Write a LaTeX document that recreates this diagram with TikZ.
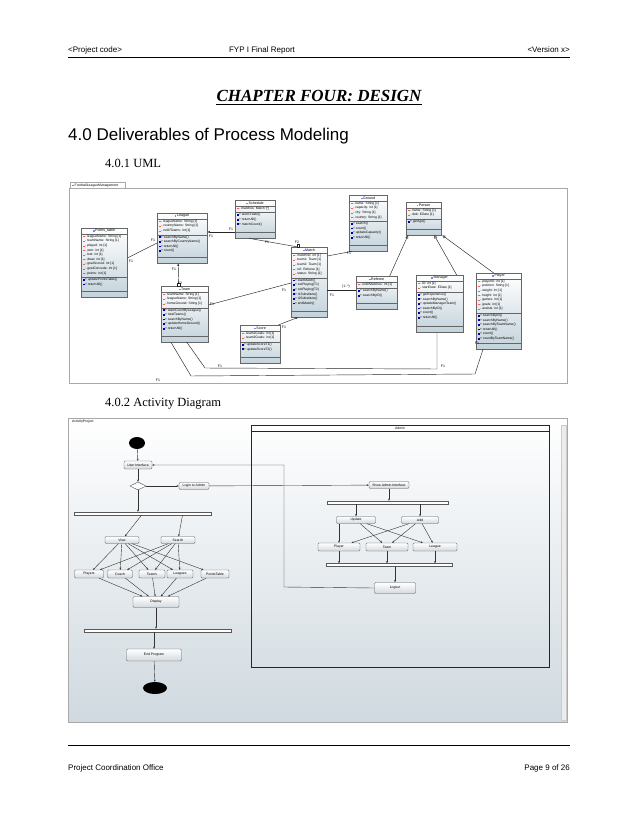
\documentclass[tikz,border=0pt]{standalone}
\usepackage{fontspec}
\setmainfont{Liberation Serif}
\newfontfamily\hfont{Liberation Sans}
\usetikzlibrary{arrows.meta,calc,shapes.geometric}
\definecolor{clsb}{HTML}{C3D2DB}
\definecolor{frm}{HTML}{A8A8A8}
\definecolor{actb}{HTML}{D3D9DD}
\definecolor{bgb}{HTML}{CFD9DF}
\newcommand\ai{\textcolor{red!65}{\rule{2pt}{1pt}}\,}
\newcommand\mi{\textcolor{blue!65!black}{\rule{1.8pt}{1.8pt}}\,}
\newcommand\ci{\textcolor{blue!50}{\rule{1.6pt}{1.6pt}}}
\tikzset{
 clsbox/.style={draw=gray!80!black, line width=0.35pt, rectangle, inner sep=0, shading=axis, top color=white, bottom color=clsb},
 clsline/.style={draw=gray!80!black, line width=0.3pt},
 clstitle/.style={font=\hfont\fontsize{3.6}{4}\selectfont, inner sep=0},
 clstext/.style={font=\hfont\fontsize{3.3}{4.6}\selectfont, inner sep=0, align=left},
 assoc/.style={draw=gray!30!black, line width=0.45pt},
 lab/.style={font=\hfont\fontsize{3.5}{4}\selectfont, inner sep=0.5pt},
 act/.style={draw=gray!70!black, line width=0.35pt, rounded corners=1.2pt, shading=axis, top color=white, bottom color=actb, font=\hfont\fontsize{3.4}{4}\selectfont, inner sep=0.5pt},
 bar/.style={draw=gray!70!black, fill=white, line width=0.35pt, inner sep=0, minimum height=3pt},
 flow/.style={draw=gray!40!black, line width=0.4pt, -{Stealth[length=2.2pt,width=1.8pt]}},
 hdr/.style={font=\hfont\fontsize{8}{9}\selectfont, inner sep=0}
}
\newcommand\cls[9]{%
 \node[clsbox, minimum width=#4pt, minimum height=#5pt, anchor=north west] (#1) at (#2,#3) {};
 \pgfmathsetmacro\dv{8+4.6*#9}
 \draw[clsline] (#2,#3+6) -- ++(#4,0);
 \draw[clsline] (#2,#3+\dv) -- ++(#4,0);
 \draw[clsline] (#2,#3+#5-6) -- ++(#4,0);
 \node[clstitle] at (#2+#4/2,#3+3) {\ci\,#6};
 \node[clstext, anchor=north west] at (#2+1.5,#3+6.8) {#7};
 \node[clstext, anchor=north west] at (#2+1.5,#3+\dv+0.8) {#8};
}
\begin{document}
\begin{tikzpicture}[x=1pt,y=-1pt]
\useasboundingbox[fill=white] (0,0) rectangle (638,826);
% header
\node[hdr, anchor=west] (h1) at (68,50) {<Project code>};
\node[hdr] (h2) at (262,50) {FYP I Final Report};
\node[hdr, anchor=east] (h3) at (570,50) {<Version x>};
\draw[line width=0.5pt] (68,57) -- (570,57);
\node[font=\fontsize{17}{19}\selectfont\bfseries\itshape, inner sep=0] (ch) at (319,96) {CHAPTER FOUR: DESIGN};
\draw[line width=0.8pt] ([yshift=-2pt]ch.south west) -- ([yshift=-2pt]ch.south east);
\node[font=\hfont\fontsize{17}{19}\selectfont, anchor=west, inner sep=0] (s40) at (68,136) {4.0 Deliverables of Process Modeling};
\node[font=\fontsize{12.5}{14}\selectfont, anchor=west, inner sep=0] (s401) at (105,163) {4.0.1 UML};
\node[font=\fontsize{12.5}{14}\selectfont, anchor=west, inner sep=0] (s402) at (105,404) {4.0.2 Activity Diagram};
% footer
\draw[line width=0.5pt] (68,745) -- (570,745);
\node[hdr, anchor=west] (f1) at (68,768) {Project Coordination Office};
\node[hdr, anchor=east] (f2) at (570,768) {Page 9 of 26};

% ================= UML =================
\draw[frm, line width=0.6pt] (69,188) rectangle (567,383);
\draw[frm, line width=0.5pt, fill=white] (70,182.5) rectangle (125,188);
\node[font=\hfont\fontsize{3.4}{4}\selectfont, inner sep=0, anchor=west] (tab) at (72,185.3) {\ci\ FootballLeagueManagement};

\cls{pt}{81}{228}{46}{69}{Points\_table}{\ai- leagueName: String [1]\\\ai- teamName: String [1]\\\ai- played: int [1]\\\ai- won: int [1]\\\ai- lost: int [1]\\\ai- draw: int [1]\\\ai- goalScored: int [1]\\\ai- goalConcede: int [1]\\\ai- points: int [1]}{\mi+ updatePointsTable()\\\mi+ returnAll()}{9}
\cls{lg}{157}{213}{50}{50}{League}{\ai- leagueName: String [1]\\\ai- countryName: String [1]\\\ai- noOfTeams: int [1]}{\mi+ searchByName()\\\mi+ searchByCountryName()\\\mi+ returnAll()\\\mi+ count()}{3}
\cls{sc}{235}{200}{40}{38}{Schedule}{\ai- matches: Match [*]}{\mi+ autoCreate()\\\mi+ returnAll()\\\mi+ matchCount()}{1}
\cls{mt}{291}{247}{36}{70}{Match}{\ai- matchNo: int [1]\\\ai- team1: Team [1]\\\ai- team2: Team [1]\\\ai- ref: Referee [1]\\\ai- status: String [1]}{\mi+ startMatch()\\\mi+ setPlaying(T1)\\\mi+ setPlaying(T2)\\\mi+ t1Substitute()\\\mi+ t2Substitute()\\\mi+ endMatch()}{5}
\cls{tm}{161}{286}{47}{56}{Team}{\ai- teamName: String [1]\\\ai- leagueName: String [1]\\\ai- homeGround: String [1]}{\mi+ teamCountByLeague()\\\mi+ totalTeams()\\\mi+ searchByName()\\\mi+ updateHomeGround()\\\mi+ returnAll()}{3}
\cls{so}{240}{325}{40}{38}{Score}{\ai- team1Goals: int [1]\\\ai- team2Goals: int [1]}{\mi+ updateScoreT1()\\\mi+ updateScoreT2()}{2}
\cls{gr}{349}{195}{38}{56}{Ground}{\ai- name: String [1]\\\ai- capacity: int [1]\\\ai- city: String [1]\\\ai- country: String [1]}{\mi+ search()\\\mi+ count()\\\mi+ updateCapacity()\\\mi+ returnAll()}{4}
\cls{ps}{406}{202}{35}{33}{Person}{\ai- name: String [1]\\\ai- dob: EDate [1]}{\mi+ getAge()}{2}
\cls{rf}{356}{276}{41}{33}{Referee}{\ai- noOfMatches: int [1]}{\mi+ searchByName()\\\mi+ searchByID()}{1}
\cls{mg}{416}{275}{47}{57}{Manager}{\ai- ID: int [1]\\\ai- startDate: EDate [1]}{\mi+ getExperience()\\\mi+ searchByName()\\\mi+ updateManagerTeam()\\\mi+ searchByID()\\\mi+ count()\\\mi+ returnAll()}{2}
\cls{pl}{476}{273}{45}{76}{Player}{\ai- playerID: int [1]\\\ai- position: String [1]\\\ai- weight: int [1]\\\ai- height: int [1]\\\ai- games: int [1]\\\ai- goals: int [1]\\\ai- assists: int [1]}{\mi+ searchByID()\\\mi+ searchByName()\\\mi+ searchByTeamName()\\\mi+ returnAll()\\\mi+ count()\\\mi+ countByTeamName()}{7}

% UML connectors
\draw[assoc] (pt.east |- 0,258) -- (lg.west |- 0,243);
\node[lab] at (131,261) {F1}; \node[lab] at (153,240) {F1};
\draw[assoc, -{Latex[length=2.5pt,width=2pt]}] (sc.west |- 0,232) -- (lg.east |- 0,232);
\node[lab] at (231,229) {F1}; \node[lab] at (211,236) {F1};
\draw[assoc] ([xshift=-6pt]sc.south) -- ([xshift=7pt]mt.north west);
\draw[gray!30!black, fill=white, line width=0.35pt] ([xshift=7pt]mt.north west) ++(-1.3,0) rectangle ++(2.6,-2.6);
\node[lab] at (267,242) {F1}; \node[lab] at (297,242) {F2};
\draw[assoc, -{Latex[length=2.5pt,width=2pt]}] ([xshift=-6pt]tm.north) -- ([xshift=-4pt]lg.south);
\draw[gray!30!black, fill=white, line width=0.35pt] ([xshift=-6pt]tm.north) ++(-1.3,0) rectangle ++(2.6,-2.6);
\node[lab] at (174,269) {F1}; \node[lab] at (180,283) {F2};
\draw[assoc] (tm.east |- 0,305) -- (mt.west |- 0,283);
\node[lab] at (212,304) {F1}; \node[lab] at (284,290) {F1};
\draw[assoc] (mt.east |- 0,290) -- (rf.west |- 0,290);
\node[lab] at (332,295) {F1}; \node[lab] at (346,287) {(1..*)};
\draw[assoc] (mt.east |- 0,256) -- ([xshift=3pt]gr.south west);
\node[lab] at (349,253) {F1};
\draw[assoc, -{Latex[length=2.5pt,width=2pt]}] ([xshift=-2pt]so.north east) -- ([xshift=7pt]mt.south west);
\node[lab] at (284,327) {F1};
\draw[assoc, -{Triangle[open,length=3pt,width=3pt]}] ([xshift=13pt]rf.north) -- ([xshift=2pt]ps.south west);
\draw[assoc, -{Triangle[open,length=3pt,width=3pt]}] ([xshift=17pt]mg.north) -- ([xshift=-7pt]ps.south east);
\draw[assoc, -{Triangle[open,length=3pt,width=3pt]}] ([xshift=-5pt]pl.north) -- ([xshift=1pt]ps.south east);
\coordinate (c1) at (205,368); \coordinate (c2) at (437,369);
\draw[assoc] (tm.south |- 0,342) ++(2,0) -- (c1) -- (c2) -- (c2 |- mg.south);
\node[lab] at (220,366) {F1}; \node[lab] at (443,366) {F1};
\coordinate (d1) at (191,376); \coordinate (d2) at (475,374);
\draw[assoc] ([xshift=10pt]tm.south west) -- (d1) -- (d2) -- ([xshift=7pt]pl.south west);
\node[lab] at (158,380) {F1}; \node[lab] at (477,343) {F1};

% ================= Activity =================
\draw[frm, line width=0.6pt, shading=axis, top color=white, bottom color=bgb] (68,418) rectangle (567,722);
\draw[gray!40, fill=gray!15, line width=0.3pt] (561,425) rectangle (566,720);
\node[font=\hfont\fontsize{3.4}{4}\selectfont, inner sep=0, anchor=west] (atitle) at (72,422) {ActivityProject};
% admin partition
\draw[gray!30!black, line width=0.5pt] (251,425) rectangle (549,667);
\draw[gray!30!black, line width=0.4pt] (251,431) -- (549,431);
\node[font=\hfont\fontsize{3.4}{4}\selectfont, inner sep=0] (admin) at (400,428.5) {Admin};

\node[ellipse, fill=black, minimum width=16pt, minimum height=12pt, inner sep=0] (start) at (137,443) {};
\node[act, minimum width=28pt, minimum height=8pt] (ui) at (138,465) {User Interface};
\node[diamond, draw=gray!60!black, fill=white, minimum width=16pt, minimum height=8pt, inner sep=0, line width=0.35pt] (dec) at (138,486) {};
\node[act, minimum width=30pt, minimum height=7pt] (login) at (194,486) {Login to Admin};
\node[bar, minimum width=137pt] (b1) at (142.5,513.5) {};
\node[act, minimum width=34pt, minimum height=7pt] (view) at (122,540) {View};
\node[act, minimum width=34pt, minimum height=7pt] (search) at (178,540) {Search};
\node[act, minimum width=29pt, minimum height=8pt] (players) at (89,574) {Players};
\node[act, minimum width=25pt, minimum height=8pt] (coach) at (120,574) {Coach};
\node[act, minimum width=26pt, minimum height=8pt] (teams) at (152,574) {Teams};
\node[act, minimum width=26pt, minimum height=8pt] (leagues) at (180,574) {Leagues};
\node[act, minimum width=28pt, minimum height=8pt] (ptab) at (215,574) {PointsTable};
\node[act, minimum width=46pt, minimum height=11pt] (disp) at (156,602) {Display};
\node[bar, minimum width=147pt] (b2) at (157.5,630.5) {};
\node[act, minimum width=55pt, minimum height=12pt] (endp) at (154,655) {End Program};
\node[ellipse, fill=black, minimum width=24pt, minimum height=12pt, inner sep=0] (fin) at (155,688) {};

\draw[flow] (start) -- (ui);
\draw[flow] (ui) -- (dec);
\draw[flow] (dec) -- (login);
\draw[flow] (dec) -- (dec |- b1.north);
\draw[flow] ([xshift=-1pt]b1.south) -- (view);
\draw[flow] ([xshift=40pt]b1.south) -- (search);
\foreach \t in {players,coach,teams,leagues,ptab} \draw[flow] (view) -- (\t);
\foreach \t in {players,coach,teams,leagues} \draw[flow] (search) -- (\t);
\foreach \t in {players,coach,teams,leagues,ptab} \draw[flow] (\t) -- (disp);
\draw[flow] (disp) -- (disp |- b2.north);
\draw[flow] (b2.south -| endp) -- (endp);
\draw[flow] (endp) -- (fin);

\node[act, minimum width=40pt, minimum height=7pt] (show) at (389,485) {Show Admin Interface};
\node[bar, minimum width=121pt] (b3) at (387.5,502.5) {};
\node[act, minimum width=39pt, minimum height=7pt] (upd) at (356,520) {Update};
\node[act, minimum width=37pt, minimum height=7pt] (add) at (420,520) {Add};
\node[act, minimum width=42pt, minimum height=8pt] (aplayer) at (339,547) {Player};
\node[act, minimum width=42pt, minimum height=8pt] (ateam) at (387,547) {Team};
\node[act, minimum width=44pt, minimum height=8pt] (aleague) at (435,547) {League};
\node[bar, minimum width=126pt] (b4) at (389,565) {};
\node[act, minimum width=41pt, minimum height=11pt] (logout) at (395,588) {Logout};

\draw[flow] (login) -- (show);
\draw[flow] (show) -- (show |- b3.north);
\draw[flow] (b3.south -| upd) -- (upd);
\draw[flow] (b3.south -| add) -- (add);
\draw[flow] (upd.south -| aplayer) -- (aplayer);
\draw[flow] (upd) -- (ateam);
\draw[flow] (upd) -- (aleague);
\draw[flow] (add) -- (aplayer);
\draw[flow] (add) -- (ateam);
\draw[flow] (add) -- (aleague);
\foreach \t in {aplayer,ateam,aleague} \draw[flow] (\t) -- (\t |- b4.north);
\draw[flow] (b4.south -| logout) -- (logout);
\coordinate (r1) at (284,587); \coordinate (r2) at (284,465);
\draw[flow] (logout.west) -- (r1) -- (r2) -- (ui.east);
\end{tikzpicture}
\end{document}
